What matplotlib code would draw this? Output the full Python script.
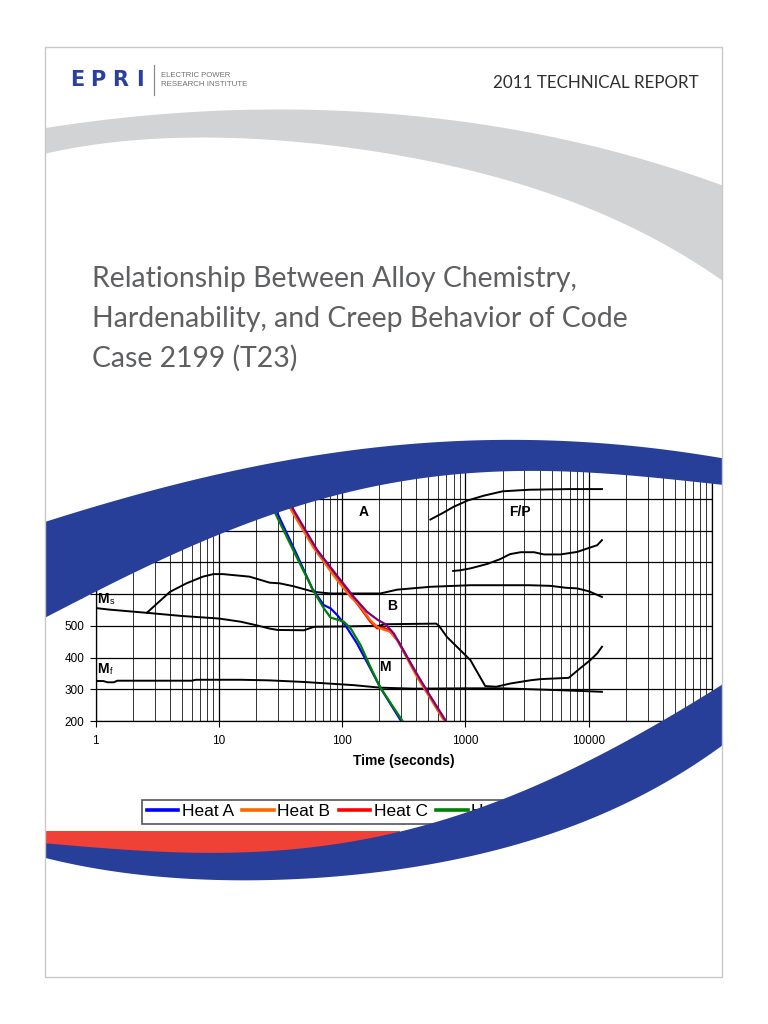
import matplotlib
matplotlib.use("Agg")
import matplotlib.pyplot as plt
import numpy as np
from matplotlib.patches import Polygon, Rectangle
from matplotlib.ticker import LogLocator, MultipleLocator, FuncFormatter, NullFormatter

# ---- CCT diagram data: time (s) vs temperature (C) ----
heat_a_t = [22.9, 30.8, 43, 57, 71, 80.5, 91, 106, 132, 169, 204, 297, 312]
heat_a_T = [950, 843, 723, 618, 565, 555, 534, 502, 444, 366, 305, 203, 190]
heat_b_t = [28.6, 39.3, 59, 91, 117, 141, 169, 192, 217, 246, 279, 336, 404, 472, 665, 700]
heat_b_T = [950, 859, 744, 644, 591, 560, 518, 497, 488, 481, 455, 397, 339, 297, 203, 190]
heat_c_t = [29.3, 40.2, 60.8, 94, 120.5, 145, 169, 192, 217, 239, 287, 346, 417, 487, 672, 705]
heat_c_T = [950, 859, 744, 644, 591, 549, 513, 492, 494, 486, 450, 392, 334, 292, 203, 190]
heat_d_t = [21.7, 29.8, 41.9, 59, 71, 80.5, 94, 103, 117, 141, 169, 204, 305, 320]
heat_d_T = [950, 841, 723, 607, 555, 526, 518, 513, 492, 439, 371, 305, 203, 190]
heat_e_t = [30.5, 41.9, 62.8, 97, 124, 159, 192, 224, 262, 336, 417, 502, 686, 720]
heat_e_T = [950, 854, 738, 644, 591, 544, 520, 505, 476, 402, 339, 287, 203, 190]

heat_names = ['Heat A', 'Heat B', 'Heat C', 'Heat D', 'Heat E']
heat_colors = ['#0000ff', '#ff6600', '#ff0000', '#008000', '#800080']

# transformation boundaries (black lines)
ms_t = [1, 1.3, 2.6, 5, 10, 15, 20, 26, 30, 49, 57, 60, 100, 196, 224, 578, 610, 707,
        1096, 1447, 1780, 2300, 3320, 4064, 6880, 8510, 10300, 11700, 12800]
ms_T = [556, 551, 541, 531, 523, 513, 502, 491, 487, 486, 495, 497, 498, 500, 505, 507, 500, 465,
        392, 310, 308, 318, 328, 332, 336, 366, 392, 413, 434]
bs_t = [2.6, 4, 5.45, 7.4, 9, 10.8, 17.7, 25.8, 31, 40, 59, 80, 204, 279, 519, 1100,
        1930, 3300, 4900, 6500, 8060, 10000, 12800]
bs_T = [541, 607, 634, 655, 663, 663, 655, 636, 634, 625, 607, 602, 602, 614, 623, 628,
        628, 628, 626, 620, 618, 609, 591]
mf_t = [1, 1.15, 1.25, 1.4, 1.5, 6, 6.5, 15, 26, 49, 124, 204, 381, 1000, 2000, 5900, 9700, 12800]
mf_T = [326, 326, 322, 322, 327, 327, 330, 330, 328, 323, 313, 305, 302, 303, 303, 297, 294, 292]
fp1_t = [519, 650, 800, 1040, 1400, 2000, 3300, 7000, 12800]
fp1_T = [835, 855, 875, 895, 910, 924, 929, 931, 931]
fp2_t = [794, 900, 1096, 1500, 1906, 2300, 2800, 3600, 4330, 5900, 8060, 10300, 11700, 12800]
fp2_T = [673, 675, 681, 695, 710, 726, 732, 732, 725, 725, 733, 747, 754, 770]

W, H = 768, 1024
fig = plt.figure(figsize=(7.68, 10.24), dpi=100)
fig.patch.set_facecolor('white')

# ---- the chart ----
x0, x1 = 95.7, 712.0
y_bot, y_top = 721.0, 467.2
ax = fig.add_axes([x0 / W, 1 - y_bot / H, (x1 - x0) / W, (y_bot - y_top) / H], zorder=1)
ax.set_xscale('log')
ax.set_xlim(1, 1e5)
ax.set_ylim(200, 1000)

ax.xaxis.set_major_locator(LogLocator(base=10, numticks=10))
ax.xaxis.set_minor_locator(LogLocator(base=10, subs=range(2, 10), numticks=50))
ax.xaxis.set_major_formatter(FuncFormatter(lambda v, p: '%d' % v))
ax.xaxis.set_minor_formatter(NullFormatter())
ax.yaxis.set_major_locator(MultipleLocator(100))
ax.yaxis.set_major_formatter(FuncFormatter(lambda v, p: '%d' % v))

ax.grid(True, which='major', color='black', lw=0.9)
ax.grid(True, which='minor', axis='x', color='#333333', lw=0.7)
ax.set_axisbelow(True)
ax.spines['top'].set_visible(False)
for s in ['left', 'bottom', 'right']:
    ax.spines[s].set_color('black')
    ax.spines[s].set_linewidth(0.9)
ax.tick_params(which='major', direction='out', length=4, width=0.8, pad=4, labelsize=8.5)
ax.tick_params(which='minor', length=0)
ax.tick_params(axis='x', pad=6)
for lab in ax.get_xticklabels() + ax.get_yticklabels():
    lab.set_family('Liberation Sans')
ax.set_xlabel('Time (seconds)', family='Liberation Sans', fontweight='bold', fontsize=10, labelpad=5)

for t, T in [(ms_t, ms_T), (bs_t, bs_T), (mf_t, mf_T), (fp1_t, fp1_T), (fp2_t, fp2_T)]:
    ax.plot(t, T, color='black', lw=1.4, zorder=3)

heat_series = [(heat_a_t, heat_a_T), (heat_b_t, heat_b_T), (heat_c_t, heat_c_T),
               (heat_d_t, heat_d_T), (heat_e_t, heat_e_T)]
heat_z = [5, 7, 6.5, 6, 7.5]
handles = []
for (t, T), name, col, z in zip(heat_series, heat_names, heat_colors, heat_z):
    ln, = ax.plot(t, T, color=col, lw=1.6, label=name, zorder=z)
    handles.append(ln)

lab_kw = dict(family='Liberation Sans', fontweight='bold', fontsize=10, ha='center', va='center', zorder=9)
ax.text(149, 858, 'A', **lab_kw)
ax.text(2750, 858, 'F/P', **lab_kw)
ax.text(253, 563, 'B', **lab_kw)
ax.text(222, 369, 'M', **lab_kw)
sub_kw = dict(family='Liberation Sans', fontsize=6.5, ha='left', va='center', zorder=9)
m_kw = dict(family='Liberation Sans', fontweight='bold', fontsize=10, ha='left', va='center', zorder=9)
ax.text(1.03, 584, 'M', **m_kw)
ax.text(1.3, 576, 's', **sub_kw)
ax.text(1.03, 364, 'M', **m_kw)
ax.text(1.3, 355, 'f', **sub_kw)

# only the first four legend entries are visible on the cover
leg = ax.legend(handles[:4], heat_names[:4], ncol=4, loc='upper left',
                bbox_to_anchor=(142.3 / W, 1 - 800 / H), bbox_transform=fig.transFigure,
                borderaxespad=0, prop={'family': 'Liberation Sans', 'size': 12.5},
                frameon=True, fancybox=False, borderpad=0.25, handlelength=1.82,
                handletextpad=0.2, columnspacing=0.48, edgecolor='#555555', framealpha=1)
leg.get_frame().set_linewidth(1.2)
for l in leg.get_lines():
    l.set_linewidth(2.6)

# ---- cover artwork, drawn over the chart ----
ov = fig.add_axes([0, 0, 1, 1], zorder=3)
ov.set_xlim(0, W)
ov.set_ylim(H, 0)
ov.set_facecolor('none')
ov.axis('off')

xx = np.linspace(45.4, 722, 400)


def edge(pts, deg=4):
    p = np.array(pts, dtype=float)
    return np.polyval(np.polyfit(p[:, 0], p[:, 1], deg), xx)


def band(top, bot, color, z):
    verts = np.column_stack([np.r_[xx, xx[::-1]], np.r_[top, bot[::-1]]])
    ov.add_patch(Polygon(verts, closed=True, facecolor=color, edgecolor='none', zorder=z))


gray_top = edge([(45, 128.3), (129, 116.7), (218.6, 111), (308, 110), (397, 114.3),
                 (486, 125), (575.7, 141.7), (665, 166.7), (722, 185)])
gray_bot = edge([(45, 153.3), (129, 141.7), (218.6, 137.7), (308, 141.7), (397, 155),
                 (486, 175), (575.7, 205), (665, 241.7), (722, 281.7)])
up_top = edge([(45, 522), (107, 503), (173, 485), (240, 469), (280, 462), (308, 457),
               (397, 445), (486, 440), (576, 441.5), (665, 450), (722, 458)])
up_bot = edge([(44, 617), (94, 594), (134, 574), (190, 545), (240, 528), (270, 516),
               (303, 503), (337, 493), (370, 486), (403, 481), (437, 477), (470, 475),
               (510, 473), (567, 472), (633, 474), (683, 478), (722, 487)])
lo_top = edge([(45, 843), (110, 849), (174, 852.7), (263, 850.7), (352.5, 841.7),
               (397, 831.7), (486, 806.7), (544, 780), (576, 768), (600, 757), (630, 740),
               (650, 727), (687, 703), (722, 686.7)])
lo_bot = edge([(45, 858), (129, 873), (218.6, 880), (263, 880.7), (352.5, 875),
               (442, 861.7), (531, 840), (620, 806.7), (700.7, 760), (722, 746)])

band(gray_top, gray_bot, '#d1d3d4', 1)
# white area above the upper blue swoosh hides the rest of the chart
band(np.full_like(xx, 385.0), up_top + 4, 'white', 1)
ov.add_patch(Rectangle((45.4, 830.7), 400 - 45.4, 25, facecolor='#ef4136', edgecolor='none', zorder=1))
band(up_top, up_bot, '#283f99', 2)
band(lo_top, lo_bot, '#283f99', 2)

# page margins stay white, then the thin page border
ov.add_patch(Rectangle((722.5, 0), W - 722.5, H, facecolor='white', edgecolor='none', zorder=4))
ov.add_patch(Rectangle((45.4, 46.7), 722 - 45.4, 977 - 46.7, facecolor='none',
                       edgecolor='#c8c8c8', lw=1.0, zorder=5))

# header
for ch, cx in zip('EPRI', [77, 98, 120.5, 139.5]):
    ov.text(cx, 79.5, ch, color='#2b3f9e', fontsize=15, fontweight='bold', family='DejaVu Sans',
            ha='center', va='center', zorder=6)
ov.plot([154, 154], [64.7, 94.7], color='#8a8a8a', lw=0.9, zorder=6)

renderer = fig.canvas.get_renderer()


def fit(txt, width):
    bb = txt.get_window_extent(renderer)
    txt.set_fontsize(txt.get_fontsize() * width / bb.width)


t1 = ov.text(161, 75.3, 'ELECTRIC POWER', color='#707070', fontsize=5.5, family='Liberation Sans',
             ha='left', va='center', zorder=6)
t2 = ov.text(161, 84.7, 'RESEARCH INSTITUTE', color='#707070', fontsize=5.5, family='Liberation Sans',
             ha='left', va='center', zorder=6)
fit(t1, 70)
fit(t2, 87)

title_font = ['Lato', 'Open Sans', 'DejaVu Sans']
rep = ov.text(698.5, 82.5, '2011 TECHNICAL REPORT', color='#2e2e2e', fontsize=15,
              family=title_font, ha='right', va='center', zorder=6)
fit(rep, 207)

lines = ['Relationship Between Alloy Chemistry,',
         'Hardenability, and Creep Behavior of Code',
         'Case 2199 (T23)']
baselines = [286.7, 326.7, 366.7]
tl = [ov.text(91.5, b, s, color='#5e5f61', fontsize=22, family=title_font,
              ha='left', va='baseline', zorder=6) for s, b in zip(lines, baselines)]
bb = tl[1].get_window_extent(renderer)
fs = tl[1].get_fontsize() * 535 / bb.width
for t in tl:
    t.set_fontsize(fs)

fig.savefig('out.png', dpi=100)
